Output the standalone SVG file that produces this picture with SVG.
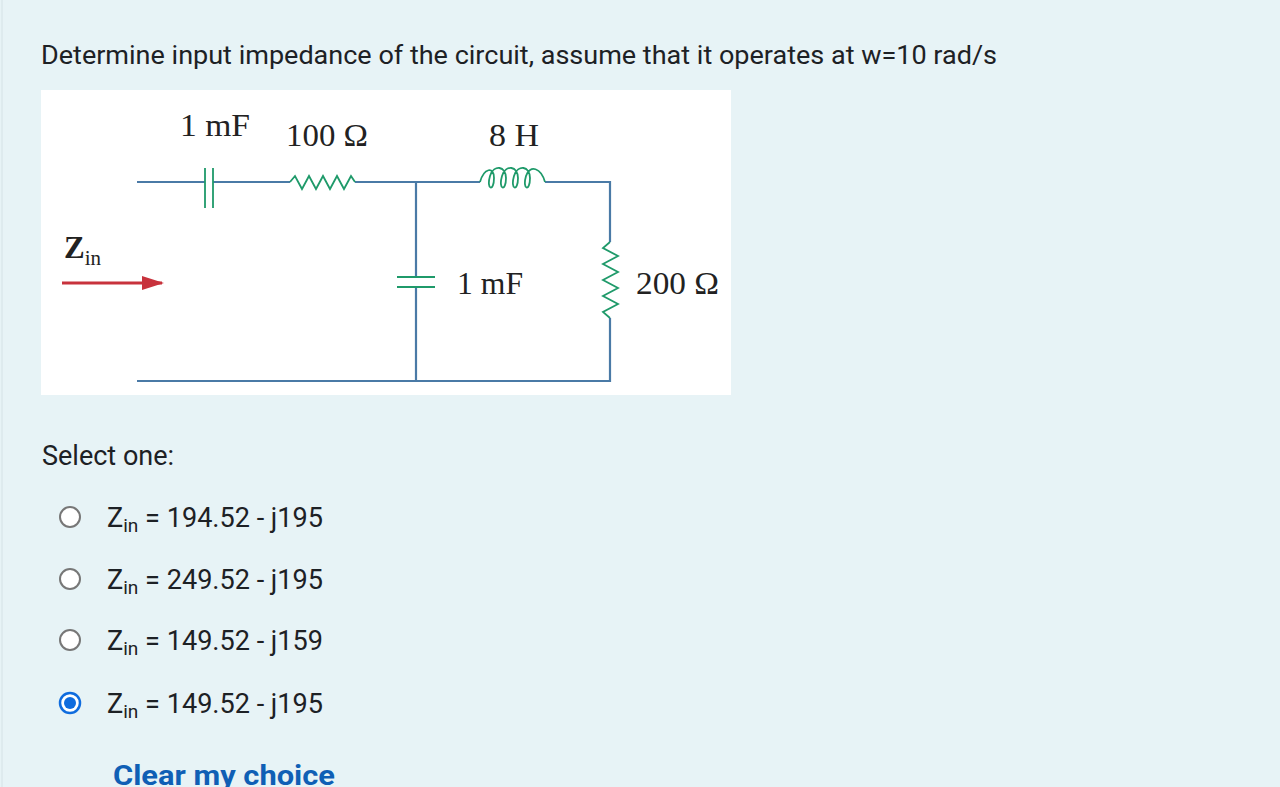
<svg xmlns="http://www.w3.org/2000/svg" width="1280" height="787" viewBox="0 0 1280 787">
<style>
.ui{font-family:Roboto,"Liberation Sans",sans-serif;fill:#1d2125}
.w{stroke:#4a7aa6;stroke-width:2.2;fill:none}
.g{stroke:#1f9a6a;stroke-width:1.8;fill:none}
.t{font-family:"Liberation Serif",serif;fill:#222;font-size:31px}
.opt{font-family:Roboto,"Liberation Sans",sans-serif;fill:#1d2125;font-size:27px}
</style>
<defs>
<marker id="ah" markerWidth="22" markerHeight="16" refX="20" refY="8" orient="auto" markerUnits="userSpaceOnUse"><path d="M0,1 L22,8 L0,15Z" fill="#c8323c"/></marker>
</defs>
<rect width="1280" height="787" fill="#e7f3f6"/>
<line x1="2" y1="0" x2="2" y2="787" stroke="#d5e2e6"/>
<text class="ui" x="41" y="64" font-size="26" textLength="956" lengthAdjust="spacingAndGlyphs">Determine input impedance of the circuit, assume that it operates at w=10 rad/s</text>
<rect x="41" y="90" width="690" height="305" fill="#fff"/>
<g id="connectors">
<path class="w" d="M137,182 H205 M213,182 H290 M355,182 H480 M545,182 H610 V242 M610,318 V381 H137 M416,182 V277 M416,287 V381"/>
<line x1="62" y1="283" x2="162" y2="283" stroke="#c8323c" stroke-width="3" marker-end="url(#ah)"/>
</g>
<g id="cap1"><path class="g" d="M205,168 V208 M213,168 V208"/><text class="t" x="180" y="136" textLength="70" lengthAdjust="spacingAndGlyphs">1 mF</text></g>
<g id="r100"><path class="g" d="M290,182 L295,176 L302,189 L309,176 L316,189 L323,176 L330,189 L337,176 L344,189 L351,176 L355,182"/><text class="t" x="286" y="146" textLength="82" lengthAdjust="spacingAndGlyphs">100 Ω</text></g>
<g id="l8"><path class="g" d="M480,182 C484,168 494,166 494,178 C494,192 486,190 490,176 C494,164 506,166 506,178 C506,192 498,190 502,176 C506,164 518,166 518,178 C518,192 510,190 514,176 C518,164 530,166 530,178 C530,192 522,190 526,176 C530,164 541,168 545,182"/><text class="t" x="489" y="146" textLength="50" lengthAdjust="spacingAndGlyphs">8 H</text></g>
<g id="cap2"><path class="g" d="M397,277 H435 M397,287 H435"/><text class="t" x="457" y="294" textLength="66" lengthAdjust="spacingAndGlyphs">1 mF</text></g>
<g id="r200"><path class="g" d="M610,242 L603,248 L618,256 L603,264 L618,272 L603,280 L618,288 L603,296 L618,304 L603,312 L610,318"/><text class="t" x="636" y="294" textLength="83" lengthAdjust="spacingAndGlyphs">200 Ω</text></g>
<g id="zin"><text class="t" x="64" y="258" font-weight="bold">Z<tspan font-size="21" font-weight="normal" dy="7">in</tspan></text></g>
<text class="ui" x="42" y="465" font-size="27">Select one:</text>
<g fill="#fff" stroke="#777" stroke-width="2">
<circle cx="70" cy="517" r="10"/><circle cx="70" cy="579" r="10"/><circle cx="70" cy="640" r="10"/>
</g>
<circle cx="70" cy="703" r="10" fill="#fff" stroke="#0f6cde" stroke-width="2.5"/>
<circle cx="70" cy="703" r="6" fill="#0f6cde"/>
<text class="opt" x="107" y="527" textLength="216" lengthAdjust="spacingAndGlyphs">Z<tspan font-size="19" dy="5">in</tspan><tspan dy="-5"> = 194.52 - j195</tspan></text>
<text class="opt" x="107" y="589" textLength="216" lengthAdjust="spacingAndGlyphs">Z<tspan font-size="19" dy="5">in</tspan><tspan dy="-5"> = 249.52 - j195</tspan></text>
<text class="opt" x="107" y="650" textLength="216" lengthAdjust="spacingAndGlyphs">Z<tspan font-size="19" dy="5">in</tspan><tspan dy="-5"> = 149.52 - j159</tspan></text>
<text class="opt" x="107" y="713" textLength="216" lengthAdjust="spacingAndGlyphs">Z<tspan font-size="19" dy="5">in</tspan><tspan dy="-5"> = 149.52 - j195</tspan></text>
<text x="113" y="785" font-family="Roboto,'Liberation Sans',sans-serif" font-size="27" font-weight="bold" fill="#0f5fb5" textLength="222" lengthAdjust="spacingAndGlyphs">Clear my choice</text>
</svg>
